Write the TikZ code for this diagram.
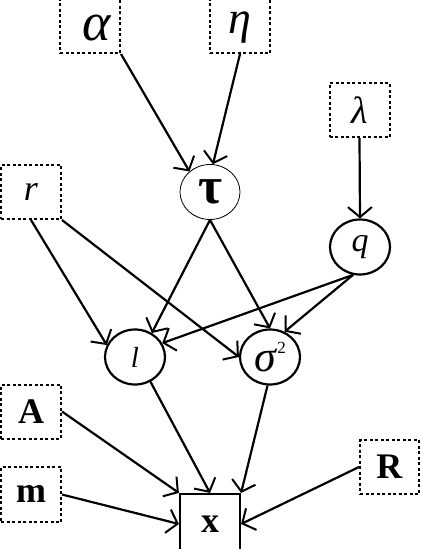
\documentclass[tikz,border=0pt]{standalone}
\usepackage{fontspec}
\setmainfont{Liberation Serif}
\usetikzlibrary{shapes.geometric,arrows.meta}
\begin{document}
\begin{tikzpicture}[x=1pt,y=-1pt,
  obs/.style={draw, dash pattern=on 3pt off 2.5pt, line width=2pt, minimum width=60pt, minimum height=54pt, inner sep=0pt},
  lat/.style={draw, ellipse, line width=2.2pt, minimum width=60pt, minimum height=55pt, inner sep=0pt},
  arr/.style={line width=2.2pt, -{Straight Barb[length=10pt,width=24pt,line width=2pt]}},
  mid/.style={font=\fontsize{36}{36}\selectfont},
]
\useasboundingbox (0,0) rectangle (421,549);
\node[obs, minimum height=64pt, font=\fontsize{54}{54}\selectfont] (al) at (90,21) {\hspace{14pt}\raisebox{-7pt}[\height][\depth]{\textit{α}}};
\node[obs, minimum height=64pt, font=\fontsize{46}{46}\selectfont] (et) at (240,21) {\raisebox{-7pt}[\height][\depth]{\textit{η}}};
\node[obs, font=\fontsize{38}{38}\selectfont] (la) at (359.5,110) {\textit{λ}};
\node[obs, mid] (r) at (31,192) {\textit{r}};
\node[obs, mid] (A) at (31,411.5) {\textbf{A}};
\node[obs, mid, minimum height=55pt] (m) at (31,494.5) {\textbf{m}};
\node[obs, mid, minimum width=59pt] (R) at (389.5,467) {\textbf{R}};
\node[draw, line width=2.2pt, minimum width=60pt, minimum height=60pt, inner sep=0pt, mid] (x) at (210,524) {\textbf{x}};
\node[lat, line width=0.8pt, font=\fontsize{52}{52}\selectfont] (tau) at (210,192) {\textbf{τ}};
\node[lat, font=\fontsize{34}{34}\selectfont] (q) at (360,247) {\textit{q}};
\node[lat, font=\fontsize{29}{29}\selectfont] (l) at (135,357) {\textit{l}};
\node[lat, font=\fontsize{44}{44}\selectfont] (s) at (270,357) {\textit{σ}\raisebox{0.4em}{\fontsize{17}{17}\selectfont 2}};
\draw[arr] (al.south east) -- (tau.135);
\draw[arr] (et.south) -- (tau.84);
\draw[arr] (la.south) -- (q.north);
\draw[arr] (r.south) -- (l.157);
\draw[arr] (r.south east) -- (s.180);
\draw[arr] (tau.south) -- (l.55);
\draw[arr] (tau.south) -- (s.90);
\draw[arr] (q.-104) -- (l.27);
\draw[arr] (q.-104) -- (s.60);
\draw[arr] (l.-58) -- (x.north);
\draw[arr] (s.-95) -- (x.north east);
\draw[arr] (A.east) -- (x.north west);
\draw[arr] (m.east) -- (x.west);
\draw[arr] (R.west) -- (x.east);
\end{tikzpicture}
\end{document}
